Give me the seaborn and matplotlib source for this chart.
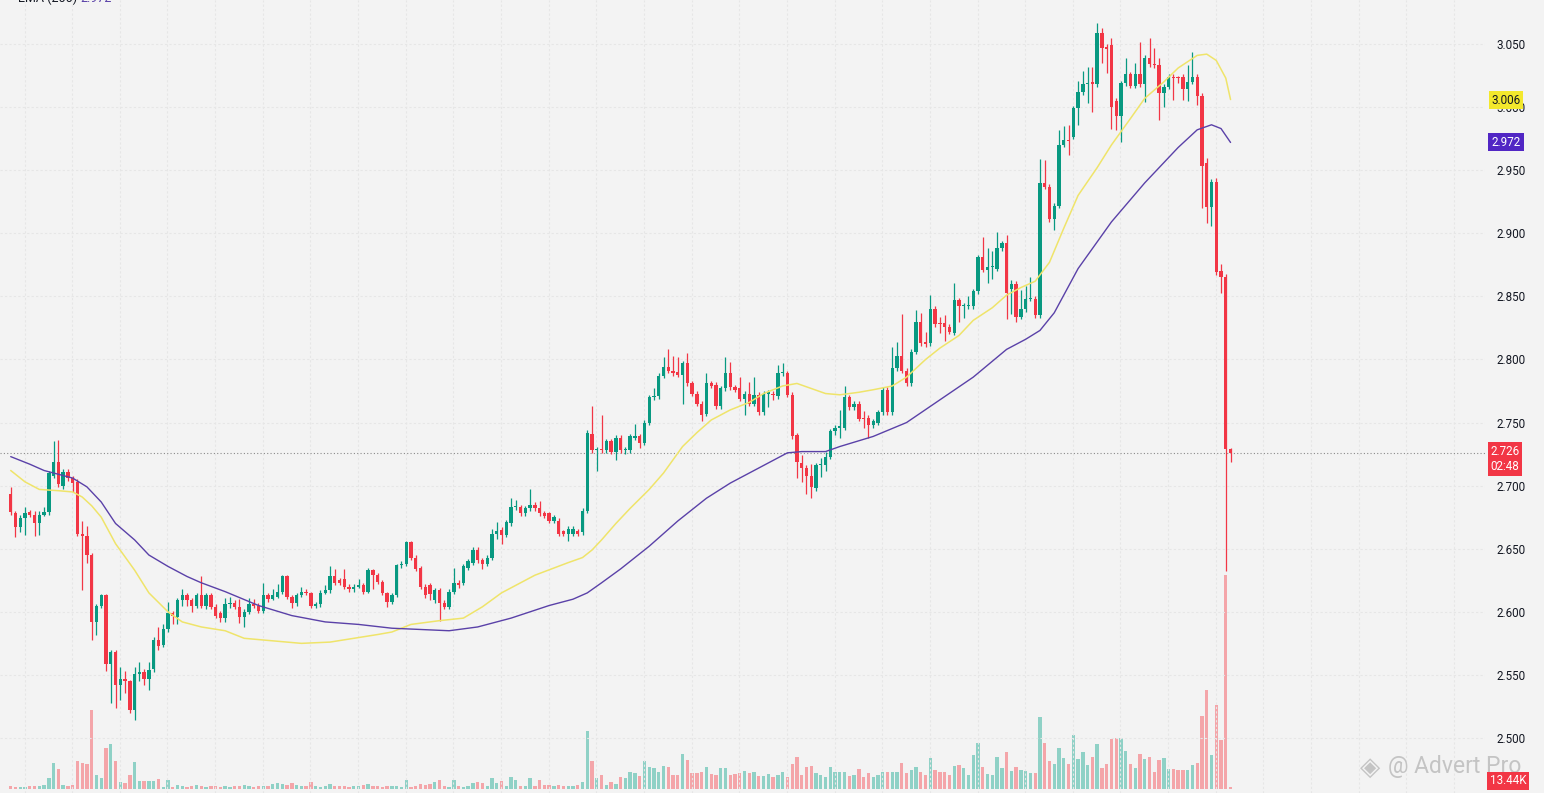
import numpy as np
import pandas as pd
import matplotlib
matplotlib.use("Agg")
import matplotlib.pyplot as plt
import seaborn as sns

# OHLC per candle (index 0 = left-most candle)
opens = [
    2.693, 2.678, 2.667, 2.674, 2.679, 2.677, 2.670, 2.677, 2.679, 2.708,
    2.719, 2.700, 2.711, 2.706, 2.703, 2.662, 2.660, 2.645, 2.592, 2.605,
    2.613, 2.559, 2.568, 2.542, 2.547, 2.545, 2.522, 2.551, 2.552, 2.547,
    2.555, 2.578, 2.574, 2.586, 2.599, 2.596, 2.609, 2.613, 2.609, 2.605,
    2.613, 2.605, 2.613, 2.604, 2.599, 2.595, 2.606, 2.607, 2.604, 2.596,
    2.600, 2.606, 2.605, 2.601, 2.613, 2.610, 2.612, 2.616, 2.628, 2.612,
    2.607, 2.613, 2.616, 2.615, 2.605, 2.606, 2.615, 2.617, 2.628, 2.625,
    2.626, 2.620, 2.618, 2.620, 2.621, 2.616, 2.633, 2.629, 2.624, 2.615,
    2.608, 2.613, 2.637, 2.638, 2.655, 2.643, 2.635, 2.620, 2.621, 2.609,
    2.617, 2.607, 2.604, 2.616, 2.623, 2.623, 2.635, 2.639, 2.649, 2.641,
    2.638, 2.643, 2.662, 2.665, 2.661, 2.670, 2.683, 2.683, 2.678, 2.682,
    2.685, 2.682, 2.678, 2.678, 2.672, 2.672, 2.664, 2.662, 2.662, 2.664,
    2.663, 2.680, 2.741, 2.728, 2.729, 2.728, 2.735, 2.727, 2.738, 2.728,
    2.728, 2.738, 2.739, 2.734, 2.750, 2.770, 2.771, 2.787, 2.794, 2.791,
    2.790, 2.788, 2.797, 2.781, 2.773, 2.765, 2.757, 2.781, 2.780, 2.763,
    2.777, 2.789, 2.778, 2.777, 2.769, 2.773, 2.765, 2.772, 2.758, 2.773,
    2.773, 2.771, 2.789, 2.789, 2.772, 2.740, 2.718, 2.714, 2.708, 2.698,
    2.716, 2.716, 2.723, 2.743, 2.746, 2.746, 2.770, 2.762, 2.765, 2.754,
    2.754, 2.748, 2.750, 2.758, 2.776, 2.758, 2.793, 2.803, 2.791, 2.781,
    2.806, 2.830, 2.814, 2.813, 2.840, 2.829, 2.829, 2.826, 2.821, 2.847,
    2.842, 2.842, 2.842, 2.854, 2.881, 2.871, 2.873, 2.872, 2.888, 2.892,
    2.856, 2.860, 2.834, 2.840, 2.848, 2.848, 2.835, 2.940, 2.937, 2.911,
    2.922, 2.970, 2.974, 2.976, 2.999, 3.012, 3.018, 3.020, 3.018, 3.059,
    3.048, 3.049, 3.005, 2.993, 3.019, 3.026, 3.017, 3.026, 3.018, 3.039,
    3.034, 3.033, 3.011, 3.016, 3.024, 3.024, 3.024, 3.014, 3.020, 3.024,
    3.009, 2.956, 2.921, 2.941, 2.870, 2.865, 2.729]

closes = [
    2.679, 2.667, 2.674, 2.678, 2.677, 2.670, 2.677, 2.679, 2.710, 2.719,
    2.701, 2.711, 2.706, 2.702, 2.662, 2.660, 2.645, 2.592, 2.605, 2.613,
    2.559, 2.568, 2.542, 2.547, 2.545, 2.522, 2.551, 2.552, 2.547, 2.554,
    2.578, 2.573, 2.586, 2.599, 2.597, 2.609, 2.613, 2.609, 2.605, 2.613,
    2.605, 2.613, 2.604, 2.597, 2.595, 2.606, 2.607, 2.604, 2.596, 2.600,
    2.606, 2.605, 2.601, 2.613, 2.610, 2.613, 2.616, 2.628, 2.612, 2.607,
    2.613, 2.616, 2.615, 2.605, 2.606, 2.615, 2.617, 2.628, 2.623, 2.623,
    2.620, 2.618, 2.620, 2.621, 2.616, 2.633, 2.629, 2.624, 2.615, 2.608,
    2.613, 2.637, 2.638, 2.655, 2.643, 2.634, 2.620, 2.613, 2.614, 2.617,
    2.607, 2.604, 2.616, 2.623, 2.621, 2.636, 2.640, 2.649, 2.641, 2.638,
    2.643, 2.662, 2.664, 2.661, 2.671, 2.683, 2.684, 2.678, 2.682, 2.685,
    2.682, 2.678, 2.676, 2.672, 2.675, 2.662, 2.662, 2.666, 2.666, 2.662,
    2.680, 2.742, 2.728, 2.729, 2.728, 2.735, 2.727, 2.738, 2.728, 2.728,
    2.739, 2.739, 2.734, 2.750, 2.770, 2.771, 2.787, 2.794, 2.791, 2.789,
    2.788, 2.797, 2.781, 2.773, 2.765, 2.756, 2.781, 2.779, 2.763, 2.777,
    2.789, 2.778, 2.776, 2.769, 2.773, 2.765, 2.772, 2.758, 2.773, 2.773,
    2.772, 2.789, 2.790, 2.772, 2.739, 2.719, 2.714, 2.708, 2.699, 2.716,
    2.717, 2.723, 2.743, 2.746, 2.747, 2.770, 2.762, 2.765, 2.753, 2.753,
    2.748, 2.751, 2.758, 2.776, 2.758, 2.793, 2.803, 2.791, 2.781, 2.806,
    2.830, 2.813, 2.812, 2.840, 2.828, 2.828, 2.826, 2.822, 2.847, 2.842,
    2.842, 2.843, 2.854, 2.881, 2.871, 2.873, 2.874, 2.888, 2.892, 2.853,
    2.860, 2.834, 2.840, 2.848, 2.849, 2.835, 2.940, 2.937, 2.911, 2.922,
    2.970, 2.974, 2.973, 2.999, 3.012, 3.018, 3.019, 3.018, 3.059, 3.047,
    3.046, 3.000, 2.993, 3.019, 3.026, 3.017, 3.026, 3.018, 3.039, 3.034,
    3.033, 3.011, 3.016, 3.024, 3.023, 3.023, 3.014, 3.020, 3.024, 3.009,
    2.953, 2.921, 2.941, 2.869, 2.865, 2.729, 2.726]

highs = [
    2.699, 2.680, 2.677, 2.683, 2.681, 2.680, 2.680, 2.683, 2.712, 2.735,
    2.736, 2.713, 2.713, 2.708, 2.705, 2.672, 2.668, 2.647, 2.606, 2.614,
    2.614, 2.570, 2.570, 2.556, 2.553, 2.546, 2.556, 2.560, 2.555, 2.560,
    2.580, 2.588, 2.590, 2.608, 2.601, 2.611, 2.618, 2.615, 2.611, 2.615,
    2.628, 2.615, 2.615, 2.606, 2.601, 2.611, 2.612, 2.609, 2.610, 2.602,
    2.611, 2.610, 2.607, 2.623, 2.615, 2.618, 2.622, 2.629, 2.629, 2.613,
    2.615, 2.620, 2.618, 2.616, 2.608, 2.617, 2.621, 2.636, 2.634, 2.627,
    2.634, 2.622, 2.622, 2.626, 2.623, 2.635, 2.634, 2.631, 2.625, 2.616,
    2.615, 2.638, 2.640, 2.656, 2.656, 2.645, 2.636, 2.622, 2.623, 2.619,
    2.619, 2.609, 2.618, 2.635, 2.625, 2.638, 2.642, 2.651, 2.651, 2.643,
    2.645, 2.666, 2.671, 2.667, 2.673, 2.690, 2.689, 2.685, 2.684, 2.697,
    2.687, 2.688, 2.680, 2.679, 2.677, 2.674, 2.665, 2.668, 2.668, 2.666,
    2.682, 2.744, 2.763, 2.731, 2.756, 2.737, 2.737, 2.740, 2.740, 2.731,
    2.741, 2.749, 2.741, 2.752, 2.772, 2.777, 2.789, 2.802, 2.808, 2.803,
    2.802, 2.799, 2.805, 2.783, 2.775, 2.767, 2.789, 2.783, 2.782, 2.779,
    2.802, 2.798, 2.780, 2.786, 2.775, 2.782, 2.786, 2.774, 2.775, 2.776,
    2.775, 2.796, 2.797, 2.791, 2.774, 2.742, 2.724, 2.716, 2.717, 2.718,
    2.722, 2.727, 2.745, 2.748, 2.760, 2.779, 2.772, 2.767, 2.767, 2.759,
    2.756, 2.753, 2.760, 2.778, 2.778, 2.810, 2.814, 2.836, 2.793, 2.808,
    2.839, 2.837, 2.822, 2.851, 2.842, 2.834, 2.835, 2.828, 2.861, 2.849,
    2.845, 2.850, 2.856, 2.883, 2.897, 2.888, 2.886, 2.901, 2.894, 2.899,
    2.863, 2.862, 2.855, 2.858, 2.865, 2.850, 2.959, 2.958, 2.939, 2.924,
    2.982, 2.985, 2.986, 3.001, 3.021, 3.029, 3.032, 3.032, 3.067, 3.063,
    3.050, 3.055, 3.007, 3.021, 3.039, 3.028, 3.035, 3.052, 3.041, 3.055,
    3.047, 3.039, 3.018, 3.026, 3.026, 3.025, 3.026, 3.033, 3.044, 3.026,
    3.011, 2.960, 2.943, 2.944, 2.876, 2.868, 2.730]

lows = [
    2.677, 2.659, 2.663, 2.661, 2.675, 2.660, 2.661, 2.676, 2.677, 2.706,
    2.699, 2.697, 2.704, 2.695, 2.660, 2.617, 2.639, 2.578, 2.582, 2.603,
    2.553, 2.528, 2.524, 2.530, 2.536, 2.520, 2.514, 2.545, 2.542, 2.538,
    2.552, 2.570, 2.572, 2.584, 2.590, 2.590, 2.605, 2.605, 2.600, 2.603,
    2.603, 2.602, 2.602, 2.595, 2.592, 2.592, 2.603, 2.602, 2.591, 2.588,
    2.598, 2.603, 2.599, 2.599, 2.608, 2.609, 2.611, 2.614, 2.610, 2.603,
    2.605, 2.612, 2.613, 2.603, 2.603, 2.604, 2.614, 2.615, 2.621, 2.621,
    2.618, 2.616, 2.616, 2.619, 2.614, 2.615, 2.618, 2.622, 2.613, 2.604,
    2.606, 2.612, 2.635, 2.636, 2.641, 2.632, 2.618, 2.611, 2.609, 2.607,
    2.593, 2.602, 2.602, 2.614, 2.619, 2.621, 2.633, 2.637, 2.639, 2.634,
    2.636, 2.641, 2.658, 2.654, 2.659, 2.668, 2.681, 2.676, 2.676, 2.680,
    2.680, 2.676, 2.674, 2.670, 2.670, 2.660, 2.660, 2.656, 2.660, 2.660,
    2.661, 2.678, 2.726, 2.712, 2.726, 2.726, 2.725, 2.720, 2.726, 2.725,
    2.726, 2.736, 2.730, 2.732, 2.748, 2.768, 2.769, 2.785, 2.789, 2.787,
    2.786, 2.765, 2.779, 2.771, 2.763, 2.751, 2.755, 2.777, 2.761, 2.761,
    2.775, 2.776, 2.774, 2.767, 2.756, 2.763, 2.763, 2.756, 2.756, 2.762,
    2.768, 2.769, 2.787, 2.770, 2.737, 2.706, 2.703, 2.693, 2.690, 2.696,
    2.707, 2.712, 2.721, 2.740, 2.738, 2.744, 2.760, 2.760, 2.751, 2.746,
    2.738, 2.746, 2.748, 2.756, 2.756, 2.756, 2.791, 2.789, 2.779, 2.779,
    2.804, 2.811, 2.810, 2.811, 2.826, 2.821, 2.815, 2.820, 2.819, 2.830,
    2.833, 2.840, 2.840, 2.852, 2.869, 2.861, 2.864, 2.870, 2.886, 2.832,
    2.836, 2.830, 2.832, 2.838, 2.846, 2.833, 2.833, 2.935, 2.909, 2.903,
    2.920, 2.968, 2.962, 2.975, 2.986, 3.010, 3.003, 2.996, 3.016, 3.035,
    3.027, 2.983, 2.982, 2.972, 3.017, 3.015, 3.015, 3.016, 3.004, 3.032,
    3.031, 2.990, 3.000, 3.014, 3.006, 3.019, 3.006, 3.005, 3.018, 3.002,
    2.920, 2.908, 2.906, 2.867, 2.853, 2.632, 2.719]

# volume per candle (relative bar heights, last one = 13.44K)
volume = [
    3, 2, 2, 2, 3, 3, 3, 4, 11, 26,
    20, 4, 3, 4, 28, 26, 25, 79, 14, 11,
    41, 45, 28, 7, 6, 14, 27, 8, 8, 8,
    8, 10, 2, 9, 2, 4, 3, 2, 3, 4,
    3, 2, 3, 3, 2, 3, 2, 3, 3, 4,
    3, 2, 3, 3, 3, 5, 6, 5, 4, 6,
    4, 3, 3, 7, 3, 2, 3, 5, 3, 3,
    3, 2, 3, 3, 4, 5, 3, 3, 2, 3,
    3, 3, 2, 9, 2, 3, 5, 4, 5, 7,
    9, 3, 2, 9, 3, 2, 3, 6, 7, 6,
    3, 11, 6, 8, 3, 12, 9, 3, 3, 11,
    3, 9, 4, 4, 3, 4, 3, 3, 3, 4,
    7, 58, 28, 11, 14, 4, 7, 5, 12, 11,
    17, 16, 13, 28, 22, 21, 17, 23, 22, 14,
    14, 35, 29, 16, 16, 17, 22, 15, 14, 21,
    21, 14, 15, 16, 18, 16, 17, 13, 13, 15,
    12, 14, 17, 12, 25, 32, 14, 22, 23, 16,
    14, 12, 22, 17, 17, 17, 13, 14, 20, 12,
    16, 12, 14, 17, 17, 17, 17, 26, 16, 19,
    22, 17, 14, 31, 19, 17, 17, 14, 23, 24,
    21, 14, 34, 46, 22, 15, 14, 32, 21, 37,
    18, 22, 19, 18, 16, 16, 72, 46, 28, 25,
    41, 31, 25, 54, 30, 37, 24, 32, 45, 21,
    25, 50, 51, 51, 38, 25, 21, 35, 30, 32,
    17, 29, 31, 20, 20, 19, 19, 19, 24, 26,
    73, 99, 34, 84, 49, 214, 2]

# moving averages, sampled at candle indices
ma_fast_idx = [0, 3, 6, 10, 13, 15, 17, 19, 22, 26, 29, 33, 36, 40, 45, 49, 55, 61, 67,
               72, 77, 80, 84, 90, 95, 99, 103, 110, 117, 120, 122, 124, 127, 130, 134,
               137, 141, 144, 147, 151, 155, 158, 162, 165, 168, 171, 174, 178, 181, 185,
               188, 192, 195, 199, 202, 206, 209, 212, 215, 218, 221, 224, 228, 231, 235,
               238, 242, 245, 249, 251, 253, 255, 256]
ma_fast = [2.712, 2.703, 2.697, 2.696, 2.695, 2.691, 2.684, 2.675, 2.654, 2.633, 2.615,
           2.600, 2.592, 2.588, 2.585, 2.579, 2.577, 2.575, 2.576, 2.579, 2.582, 2.584,
           2.590, 2.593, 2.595, 2.604, 2.615, 2.629, 2.639, 2.643, 2.649, 2.657, 2.670,
           2.682, 2.697, 2.710, 2.731, 2.742, 2.752, 2.760, 2.766, 2.773, 2.779, 2.781,
           2.777, 2.773, 2.772, 2.774, 2.776, 2.779, 2.786, 2.800, 2.809, 2.819, 2.831,
           2.841, 2.851, 2.857, 2.862, 2.877, 2.904, 2.930, 2.952, 2.970, 2.991, 3.007,
           3.020, 3.031, 3.041, 3.042, 3.037, 3.023, 3.006]

ma_slow_idx = [0, 4, 7, 9, 13, 16, 19, 22, 26, 29, 33, 37, 40, 45, 52, 59, 66, 73, 80,
               86, 92, 98, 105, 113, 118, 121, 124, 128, 134, 140, 146, 151, 158, 163,
               166, 171, 174, 181, 188, 195, 202, 209, 213, 216, 219, 224, 231, 238, 245,
               249, 252, 254, 256]
ma_slow = [2.723, 2.717, 2.712, 2.710, 2.706, 2.699, 2.687, 2.670, 2.657, 2.645, 2.636,
           2.628, 2.623, 2.616, 2.605, 2.597, 2.592, 2.590, 2.587, 2.586, 2.585, 2.588,
           2.595, 2.605, 2.610, 2.615, 2.623, 2.634, 2.652, 2.672, 2.690, 2.702, 2.716,
           2.726, 2.727, 2.727, 2.731, 2.739, 2.750, 2.768, 2.786, 2.808, 2.816, 2.823,
           2.837, 2.872, 2.909, 2.940, 2.968, 2.982, 2.986, 2.983, 2.972]

price_ticks = [2.50, 2.55, 2.60, 2.65, 2.70, 2.75, 2.80, 2.85, 2.90, 2.95, 3.00, 3.05]
last_price = 2.726

candles = pd.DataFrame({"open": opens, "high": highs, "low": lows,
                        "close": closes, "volume": volume})
candles["idx"] = np.arange(len(candles))
candles["up"] = candles["close"] >= candles["open"]

GREEN = "#089981"
RED = "#f23645"
VGREEN = "#8fd1c6"
VRED = "#f4a5a9"
BG = "#f3f3f3"

sns.set_theme(style="white")
plt.rcParams["font.family"] = ["Roboto", "DejaVu Sans"]

W, H = 1544, 793
fig = plt.figure(figsize=(W / 100, H / 100), dpi=100, facecolor=BG)
vax = fig.add_axes([0, 0, 1485 / W, 1])
vax.set_facecolor(BG)
ax = vax.twinx()

# volume on its own scale at the bottom
vax.bar(candles["idx"], candles["volume"], width=0.7, linewidth=0,
        color=[VGREEN if u else VRED for u in candles["up"]], zorder=2)
vax.set_ylim(-4, 789)
vax.set_yticks([])
vax.set_xticks([])

# grid
for gx in np.arange(2.9, 310, 10):
    ax.axvline(gx, color="#e6e6e6", lw=0.8, ls=(0, (2, 2)), zorder=0)
for p in price_ticks:
    ax.axhline(p, color="#e6e6e6", lw=0.8, ls=(0, (2, 2)), zorder=0)

# candles
for up, grp in candles.groupby("up"):
    col = GREEN if up else RED
    ax.vlines(grp["idx"], grp["low"], grp["high"], color=col, lw=0.9, zorder=3)
    lo = grp[["open", "close"]].min(axis=1)
    hgt = (grp["close"] - grp["open"]).abs().clip(lower=0.0009)
    ax.bar(grp["idx"], hgt, bottom=lo, width=0.7, color=col, linewidth=0, zorder=4)

# moving averages
sns.lineplot(x=ma_fast_idx, y=ma_fast, ax=ax, color="#efe46a", lw=1.1, zorder=5)
sns.lineplot(x=ma_slow_idx, y=ma_slow, ax=ax, color="#5a41a8", lw=1.0, zorder=5)

ax.axhline(last_price, color="#8a8a8a", lw=0.8, ls=(0, (1, 2)), zorder=2)

ax.set_xlim(-2.25, 309.4)
vax.set_xlim(-2.25, 309.4)
ax.set_ylim(2.4564, 3.0849)
ax.set_yticks(price_ticks)
ax.set_yticklabels([f"{p:.3f}" for p in price_ticks])
ax.tick_params(axis="y", length=0, pad=8, labelsize=8.4, labelcolor="#131722")
ax.set_xticks([])
ax.set_ylabel("")
for a in (ax, vax):
    for s in a.spines.values():
        s.set_visible(False)


def px(x, y):
    return x / W, 1 - y / H


# price scale tags
fig.text(*px(1506, 100), "3.006", ha="center", va="center", fontsize=8.4, color="#131722",
         bbox=dict(boxstyle="square,pad=0.25", fc="#f3e82c", ec="none"), zorder=10)
fig.text(*px(1506, 142), "2.972", ha="center", va="center", fontsize=8.4, color="white",
         bbox=dict(boxstyle="square,pad=0.25", fc="#5126c4", ec="none"), zorder=10)
fig.text(*px(1505, 459), "2.726\n02:48", ha="center", va="center", fontsize=8.4,
         color="white", linespacing=1.15,
         bbox=dict(boxstyle="square,pad=0.25", fc=RED, ec="none"), zorder=10)
fig.text(*px(1508, 781), "13.44K", ha="center", va="center", fontsize=8.4, color="white",
         bbox=dict(boxstyle="square,pad=0.25", fc=RED, ec="none"), zorder=10)

# cut-off legend line at the very top
fig.text(*px(18, 2.5), "EMA (200)", ha="left", va="baseline", fontsize=9, color="#131722")
fig.text(*px(80, 2.5), "2.972", ha="left", va="baseline", fontsize=9, color="#5a41a8")

# watermark
fig.text(*px(1370, 768), "\u25c8", ha="center", va="center", fontsize=19, color="#c4c4c4")
fig.text(*px(1388, 767), "@ Advert Pro", ha="left", va="center", fontsize=16.5,
         color="#c4c4c4")

fig.savefig("out.png", dpi=100, facecolor=BG)
